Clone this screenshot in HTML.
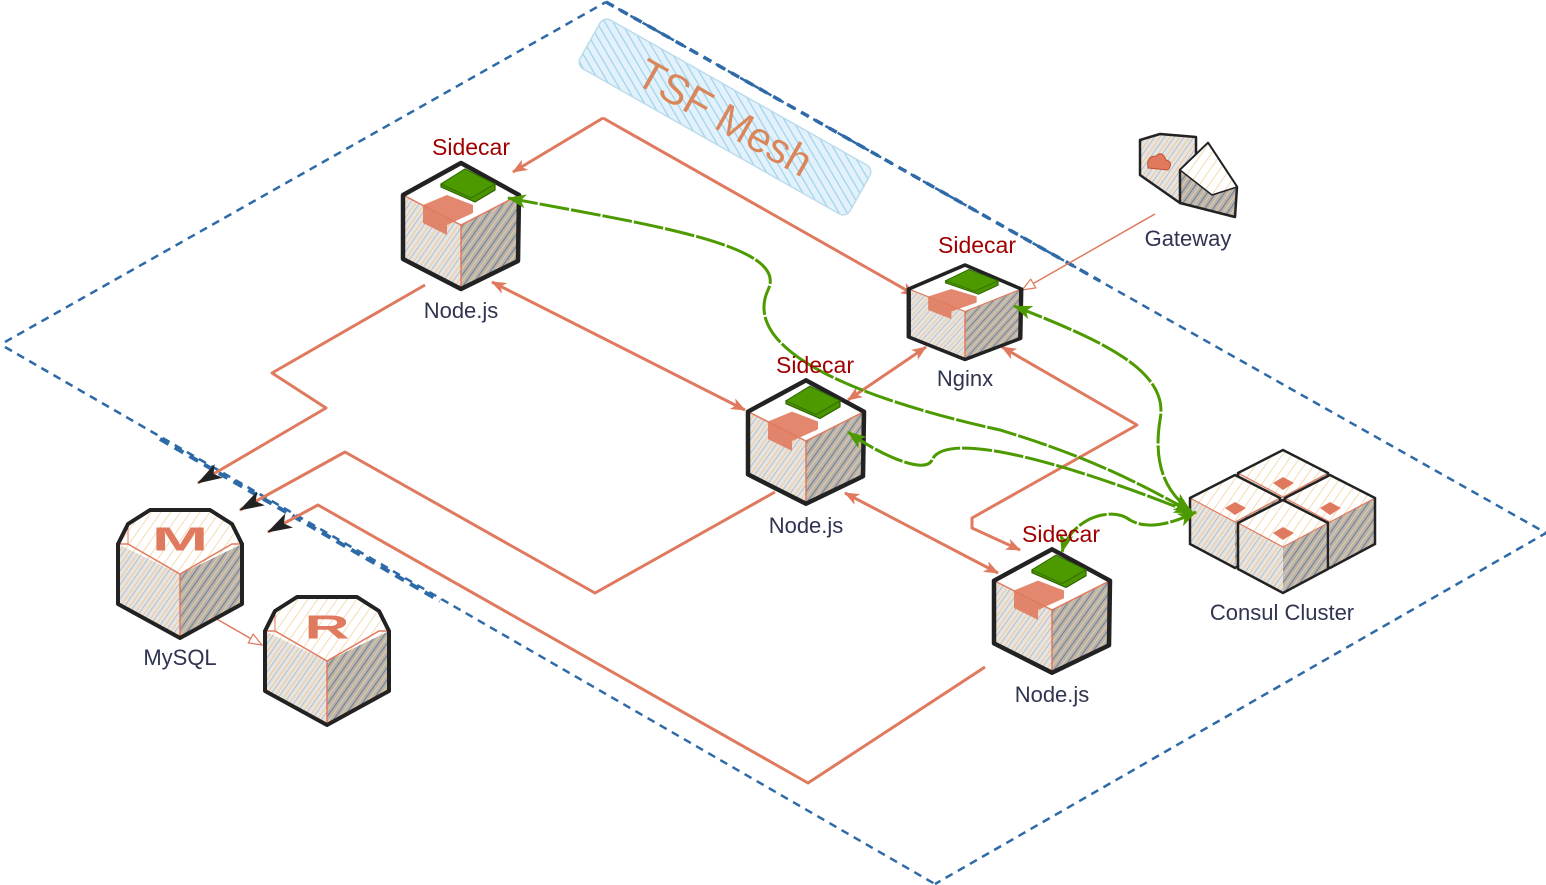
<!DOCTYPE html>
<html><head><meta charset="utf-8"><style>
html,body{margin:0;padding:0;background:#fff;}
svg{display:block;font-family:"Liberation Sans",sans-serif;}
</style></head><body>
<svg width="1546" height="885" viewBox="0 0 1546 885" xmlns="http://www.w3.org/2000/svg">
<defs>
<pattern id="hl" width="8" height="8" patternUnits="userSpaceOnUse" patternTransform="rotate(35)">
<rect width="8" height="8" fill="#e4e4e4"/><line x1="0" y1="0" x2="0" y2="8" stroke="#bdbdbd" stroke-width="2"/><line x1="5" y1="0" x2="5" y2="8" stroke="#f2c890" stroke-width="1"/></pattern>
<pattern id="hd" width="7" height="7" patternUnits="userSpaceOnUse" patternTransform="rotate(35)">
<rect width="7" height="7" fill="#b4b4b4"/><line x1="0" y1="0" x2="0" y2="7" stroke="#7c7c7c" stroke-width="2"/><line x1="4" y1="0" x2="4" y2="7" stroke="#f0c890" stroke-width="1"/></pattern>
<pattern id="ht" width="8" height="8" patternUnits="userSpaceOnUse" patternTransform="rotate(35)">
<rect width="8" height="8" fill="#fff"/><line x1="0" y1="0" x2="0" y2="8" stroke="#f3cf9c" stroke-width="1.5"/></pattern>
<pattern id="hb" width="7" height="7" patternUnits="userSpaceOnUse" patternTransform="rotate(-60)">
<rect width="7" height="7" fill="#e3f2fa"/><line x1="0" y1="0" x2="0" y2="7" stroke="#9fd3ee" stroke-width="2.5"/></pattern>
<marker id="ao2" markerWidth="16" markerHeight="16" refX="14" refY="8" orient="auto-start-reverse" markerUnits="userSpaceOnUse"><path d="M0,2 L15,8 L0,14 L4,8 z" fill="#e07a5f"/></marker>
<marker id="ak" markerWidth="26" markerHeight="20" refX="24" refY="10" orient="auto" markerUnits="userSpaceOnUse"><path d="M0,2 L25,10 L0,18 L6,10 z" fill="#222"/></marker>
<marker id="ag" markerWidth="20" markerHeight="16" refX="18" refY="8" orient="auto-start-reverse" markerUnits="userSpaceOnUse"><path d="M0,1 L19,8 L0,15 L5,8 z" fill="#4d9a00"/></marker>
<marker id="aw" markerWidth="16" markerHeight="14" refX="14" refY="7" orient="auto" markerUnits="userSpaceOnUse"><path d="M1,2 L14,7 L1,12 z" fill="#fff" stroke="#e07a5f" stroke-width="1.2"/></marker>
<g id="cube">
<polygon points="-58,-32 0,-2 0,62 -58,32" fill="url(#hl)"/>
<polygon points="0,-2 58,-32 57,34 0,62" fill="url(#hd)"/>
<polygon points="-58,-32 0,-64 58,-32 0,-2" fill="#fff"/>
<path d="M-38,-22 L-14,-32 L12,-22 L12,-14 L-14,-2 L-14,8 L-38,-4 z" fill="#e07a5f" opacity="0.9"/>
<polyline points="-58,-32 0,-2 58,-32" fill="none" stroke="#e07a5f" stroke-width="1.5"/>
<line x1="0" y1="-2" x2="0" y2="62" stroke="#e07a5f" stroke-width="1.5"/>
<polygon points="0,-64 58,-32 57,34 0,62 -58,32 -58,-32" fill="none" stroke="#222" stroke-width="4.5" stroke-linejoin="round"/>
<polygon points="-20,-43 4,-58 34,-43 34,-37 14,-25 -20,-40" fill="#4a9400" stroke="#2f6400" stroke-width="1.2"/>
<polygon points="-20,-43 4,-58 34,-43 10,-29" fill="#4d9a00" stroke="#336e00" stroke-width="1"/>
</g>
<g id="db">
<polygon points="-62,-24 0,6 0,70 -62,36" fill="url(#hl)"/>
<polygon points="0,6 62,-24 62,36 0,70" fill="url(#hd)"/>
<polygon points="-62,-24 -52,-44 -30,-58 30,-58 52,-44 62,-24 0,6" fill="url(#ht)"/>
<polyline points="-62,-24 -52,-24 0,6 52,-24 62,-24" fill="none" stroke="#e07a5f" stroke-width="1.5"/>
<polyline points="-52,-24 -52,-44 M52,-24 52,-44" fill="none" stroke="#e07a5f"/>
<line x1="0" y1="6" x2="0" y2="70" stroke="#e07a5f" stroke-width="1.5"/>
<polygon points="-62,-24 -52,-44 -30,-58 30,-58 52,-44 62,-24 62,36 0,70 -62,36" fill="none" stroke="#222" stroke-width="4" stroke-linejoin="round"/>
</g>
<g id="sc">
<polygon points="-45,-22 0,-45 45,-22 0,2" fill="url(#ht)"/>
<polygon points="-45,-22 0,2 0,48 -45,24" fill="url(#hl)"/>
<polygon points="0,2 45,-22 45,24 0,48" fill="url(#hd)"/>
<polyline points="-45,-22 0,2 45,-22" fill="none" stroke="#e07a5f" stroke-width="1.2"/>
<polygon points="-10,-12 0,-18 11,-12 0,-5" fill="#e07a5f"/>
<polygon points="-45,-22 0,-45 45,-22 45,24 0,48 -45,24" fill="none" stroke="#222" stroke-width="2.5"/>
</g>
</defs>

<!-- mesh border -->
<polyline points="5,342 606,2" fill="none" stroke="#2e6aa8" stroke-width="2.5" stroke-dasharray="8,6"/>
<polyline points="606,2 1546,533 935,884" fill="none" stroke="#2e6aa8" stroke-width="2.5" stroke-dasharray="8,6"/>
<line x1="606" y1="2" x2="1100" y2="281" stroke="#2e6aa8" stroke-width="3.5" stroke-dasharray="9,7"/>
<line x1="5" y1="347" x2="935" y2="884" stroke="#2e6aa8" stroke-width="2.5" stroke-dasharray="8,6"/>
<line x1="160" y1="439" x2="440" y2="601" stroke="#2e6aa8" stroke-width="4" stroke-dasharray="10,7"/>

<!-- TSF Mesh label -->
<g transform="translate(725,117) rotate(29.5)">
<rect x="-155" y="-28" width="310" height="56" rx="8" fill="url(#hb)" stroke="#bcdcec" stroke-width="1.5"/>
<text x="0" y="15" text-anchor="middle" font-size="42" fill="#d9875a">TSF Mesh</text>
</g>

<!-- orange connectors -->
<g fill="none" stroke="#e07a5f" stroke-width="3" stroke-linejoin="round">
<polyline points="603,118 513,172" marker-end="url(#ao2)"/>
<polyline points="603,118 915,295" marker-end="url(#ao2)"/>
<polyline points="425,285 272,373 326,408 198,483" marker-end="url(#ak)"/>
<line x1="492" y1="282" x2="745" y2="410" marker-start="url(#ao2)" marker-end="url(#ao2)"/>
<line x1="926" y1="347" x2="848" y2="400" marker-start="url(#ao2)" marker-end="url(#ao2)"/>
<line x1="845" y1="493" x2="998" y2="573" marker-start="url(#ao2)" marker-end="url(#ao2)"/>
<polyline points="1002,347 1137,425 972,518 972,528 1020,550" marker-start="url(#ao2)" marker-end="url(#ao2)"/>
<polyline points="775,492 595,593 345,452 240,510" marker-end="url(#ak)"/>
<polyline points="985,667 808,783 318,505 268,532" marker-end="url(#ak)"/>
</g>
<line x1="215" y1="618" x2="262" y2="645" stroke="#e07a5f" stroke-width="1.5" marker-end="url(#aw)"/>
<line x1="1155" y1="214" x2="1022" y2="290" stroke="#e07a5f" stroke-width="1.5" marker-end="url(#aw)"/>

<!-- nodes -->
<use href="#cube" transform="translate(461,227)"/>
<use href="#cube" transform="translate(965,313) scale(0.97,0.75)"/>
<use href="#cube" transform="translate(806,443) scale(1,0.98)"/>
<use href="#cube" transform="translate(1052,612) scale(1,0.98)"/>

<use href="#db" transform="translate(180,568)"/>
<use href="#db" transform="translate(327,655)"/>
<text x="180" y="556" text-anchor="middle" font-size="52" font-weight="bold" fill="#e07a5f" transform="translate(180,540) scale(1.3,0.65) translate(-180,-540)">M</text>
<text x="327" y="644" text-anchor="middle" font-size="52" font-weight="bold" fill="#e07a5f" transform="translate(327,628) scale(1.2,0.65) translate(-327,-628)">R</text>

<!-- consul cluster -->
<use href="#sc" transform="translate(1283,495)"/>
<use href="#sc" transform="translate(1235,520)"/>
<use href="#sc" transform="translate(1330,520)"/>
<use href="#sc" transform="translate(1283,545)"/>

<!-- gateway -->
<g stroke="#222" stroke-width="2.5" stroke-linejoin="round">
<polygon points="1140,140 1160,134 1196,137 1196,195 1180,203 1140,175" fill="url(#hl)"/>
<polygon points="1180,170 1208,143 1237,187 1235,217 1180,203" fill="url(#hd)"/>
<polygon points="1180,170 1208,143 1237,187 1212,195" fill="url(#ht)" stroke-width="1.5"/>
</g>
<path d="M1148,168 q-2,-12 8,-12 q6,-6 10,4 q8,2 2,10 z" fill="#e07a5f" stroke="#c05030" stroke-width="1"/>

<!-- green -->
<g fill="none" stroke="#4d9a00" stroke-width="3" stroke-dasharray="30,2">
<path d="M508,198 C650,225 790,245 768,290 C745,340 820,390 1000,430 C1100,460 1150,490 1192,512" marker-start="url(#ag)" marker-end="url(#ag)"/>
<path d="M1014,306 C1100,340 1170,370 1160,420 C1152,470 1170,495 1190,510" marker-start="url(#ag)" marker-end="url(#ag)"/>
<path d="M848,432 C880,455 925,475 932,460 C945,430 1060,460 1192,513" marker-start="url(#ag)" marker-end="url(#ag)"/>
<path d="M1062,552 C1070,520 1110,505 1130,520 C1150,532 1180,520 1196,512" marker-start="url(#ag)" marker-end="url(#ag)"/>
</g>

<!-- labels -->
<g font-size="23" fill="#a00000" text-anchor="middle">
<text x="471" y="155">Sidecar</text>
<text x="977" y="253">Sidecar</text>
<text x="815" y="373">Sidecar</text>
<text x="1061" y="542">Sidecar</text>
</g>
<g font-size="22" fill="#2f3450" text-anchor="middle">
<text x="461" y="318">Node.js</text>
<text x="965" y="386">Nginx</text>
<text x="806" y="533">Node.js</text>
<text x="1052" y="702">Node.js</text>
<text x="180" y="665">MySQL</text>
<text x="1188" y="246">Gateway</text>
<text x="1282" y="620">Consul Cluster</text>
</g>
</svg>
</body></html>
